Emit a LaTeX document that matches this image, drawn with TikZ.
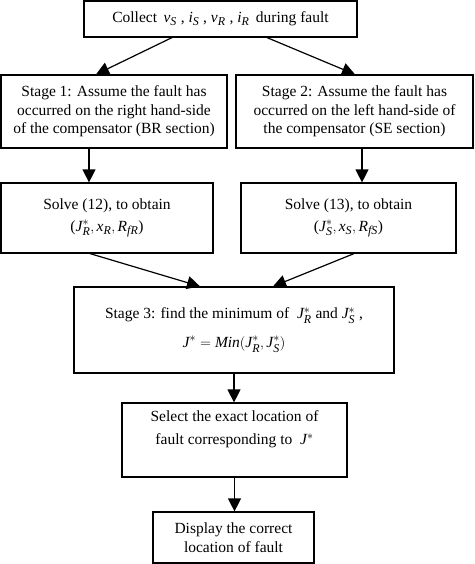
\documentclass[tikz,border=0pt]{standalone}
\usepackage{amsmath}
\usepackage{fontspec}
\setmainfont{Liberation Serif}
\usetikzlibrary{arrows.meta}
\DeclareMathSizes{15.5}{15.5}{12}{10}
\newcommand{\mi}[1]{\textit{#1}}
\begin{document}
\begin{tikzpicture}[x=1pt,y=1pt,
  box/.style={draw, line width=1.2pt, align=center, inner sep=0pt,
    font=\fontsize{15.5}{18.5}\selectfont},
  arr/.style={line width=1.2pt, -{Triangle[length=13pt,width=13pt]}}]
\useasboundingbox (0,0) rectangle (474,-564);
\node[box, minimum width=273, minimum height=36] (top) at (220.5,-19)
  {Collect \,$\mi{v}_{\mi{S}}$ , $\mi{i}_{\mi{S}}$ , $\mi{v}_{\mi{R}}$ , $\mi{i}_{\mi{R}}$\, during fault};
\node[box, minimum width=226, minimum height=73] (s1) at (114,-111.5)
  {Stage 1: Assume the fault has\\occurred on the right hand-side\\of the compensator (BR section)};
\node[box, minimum width=237, minimum height=73] (s2) at (354.5,-111.5)
  {Stage 2: Assume the fault has\\occurred on the left hand-side of\\the compensator (SE section)};
\node[box, minimum width=212, minimum height=70] (sol1) at (107,-218)
  {Solve (12), to obtain\\[3pt]($\mi{J}^{*}_{\mi{R}}, \mi{x}_{\mi{R}}, \mi{R}_{\mi{fR}}$)};
\node[box, minimum width=215, minimum height=70] (sol2) at (348.5,-218)
  {Solve (13), to obtain\\[3pt]($\mi{J}^{*}_{\mi{S}}, \mi{x}_{\mi{S}}, \mi{R}_{\mi{fS}}$)};
\node[box, minimum width=320, minimum height=86] (st3) at (234,-330)
  {Stage 3: find the minimum of \ $\mi{J}^{*}_{\mi{R}}$ and $\mi{J}^{*}_{\mi{S}}$ ,\\[10pt]$\mi{J}^{*} = \mi{Min}(\mi{J}^{*}_{\mi{R}}, \mi{J}^{*}_{\mi{S}})$};
\node[box, minimum width=225, minimum height=74, text depth=0pt] (sel) at (234.5,-440)
  {Select the exact location of\\[5pt]fault corresponding to \ $\mi{J}^{*}$\\[6pt]};
\node[box, minimum width=161, minimum height=51] (disp) at (233.5,-537.5)
  {Display the correct\\location of fault};
\draw[arr] ([xshift=-48.5]top.south) -- ([xshift=-18]s1.north);
\draw[arr] ([xshift=46.5]top.south) -- ([xshift=0.5]s2.north);
\draw[arr] ([xshift=-25]s1.south) -- ([xshift=-25]s1.south |- sol1.north);
\draw[arr] ([xshift=7.5]s2.south) -- ([xshift=7.5]s2.south |- sol2.north);
\draw[arr] ([xshift=-17]sol1.south) -- ([xshift=-34]st3.north);
\draw[arr] ([xshift=5.5]sol2.south) -- ([xshift=39]st3.north);
\draw[arr] (st3.south) -- (st3.south |- sel.north);
\draw[arr] (sel.south) -- (sel.south |- disp.north);
\end{tikzpicture}
\end{document}
